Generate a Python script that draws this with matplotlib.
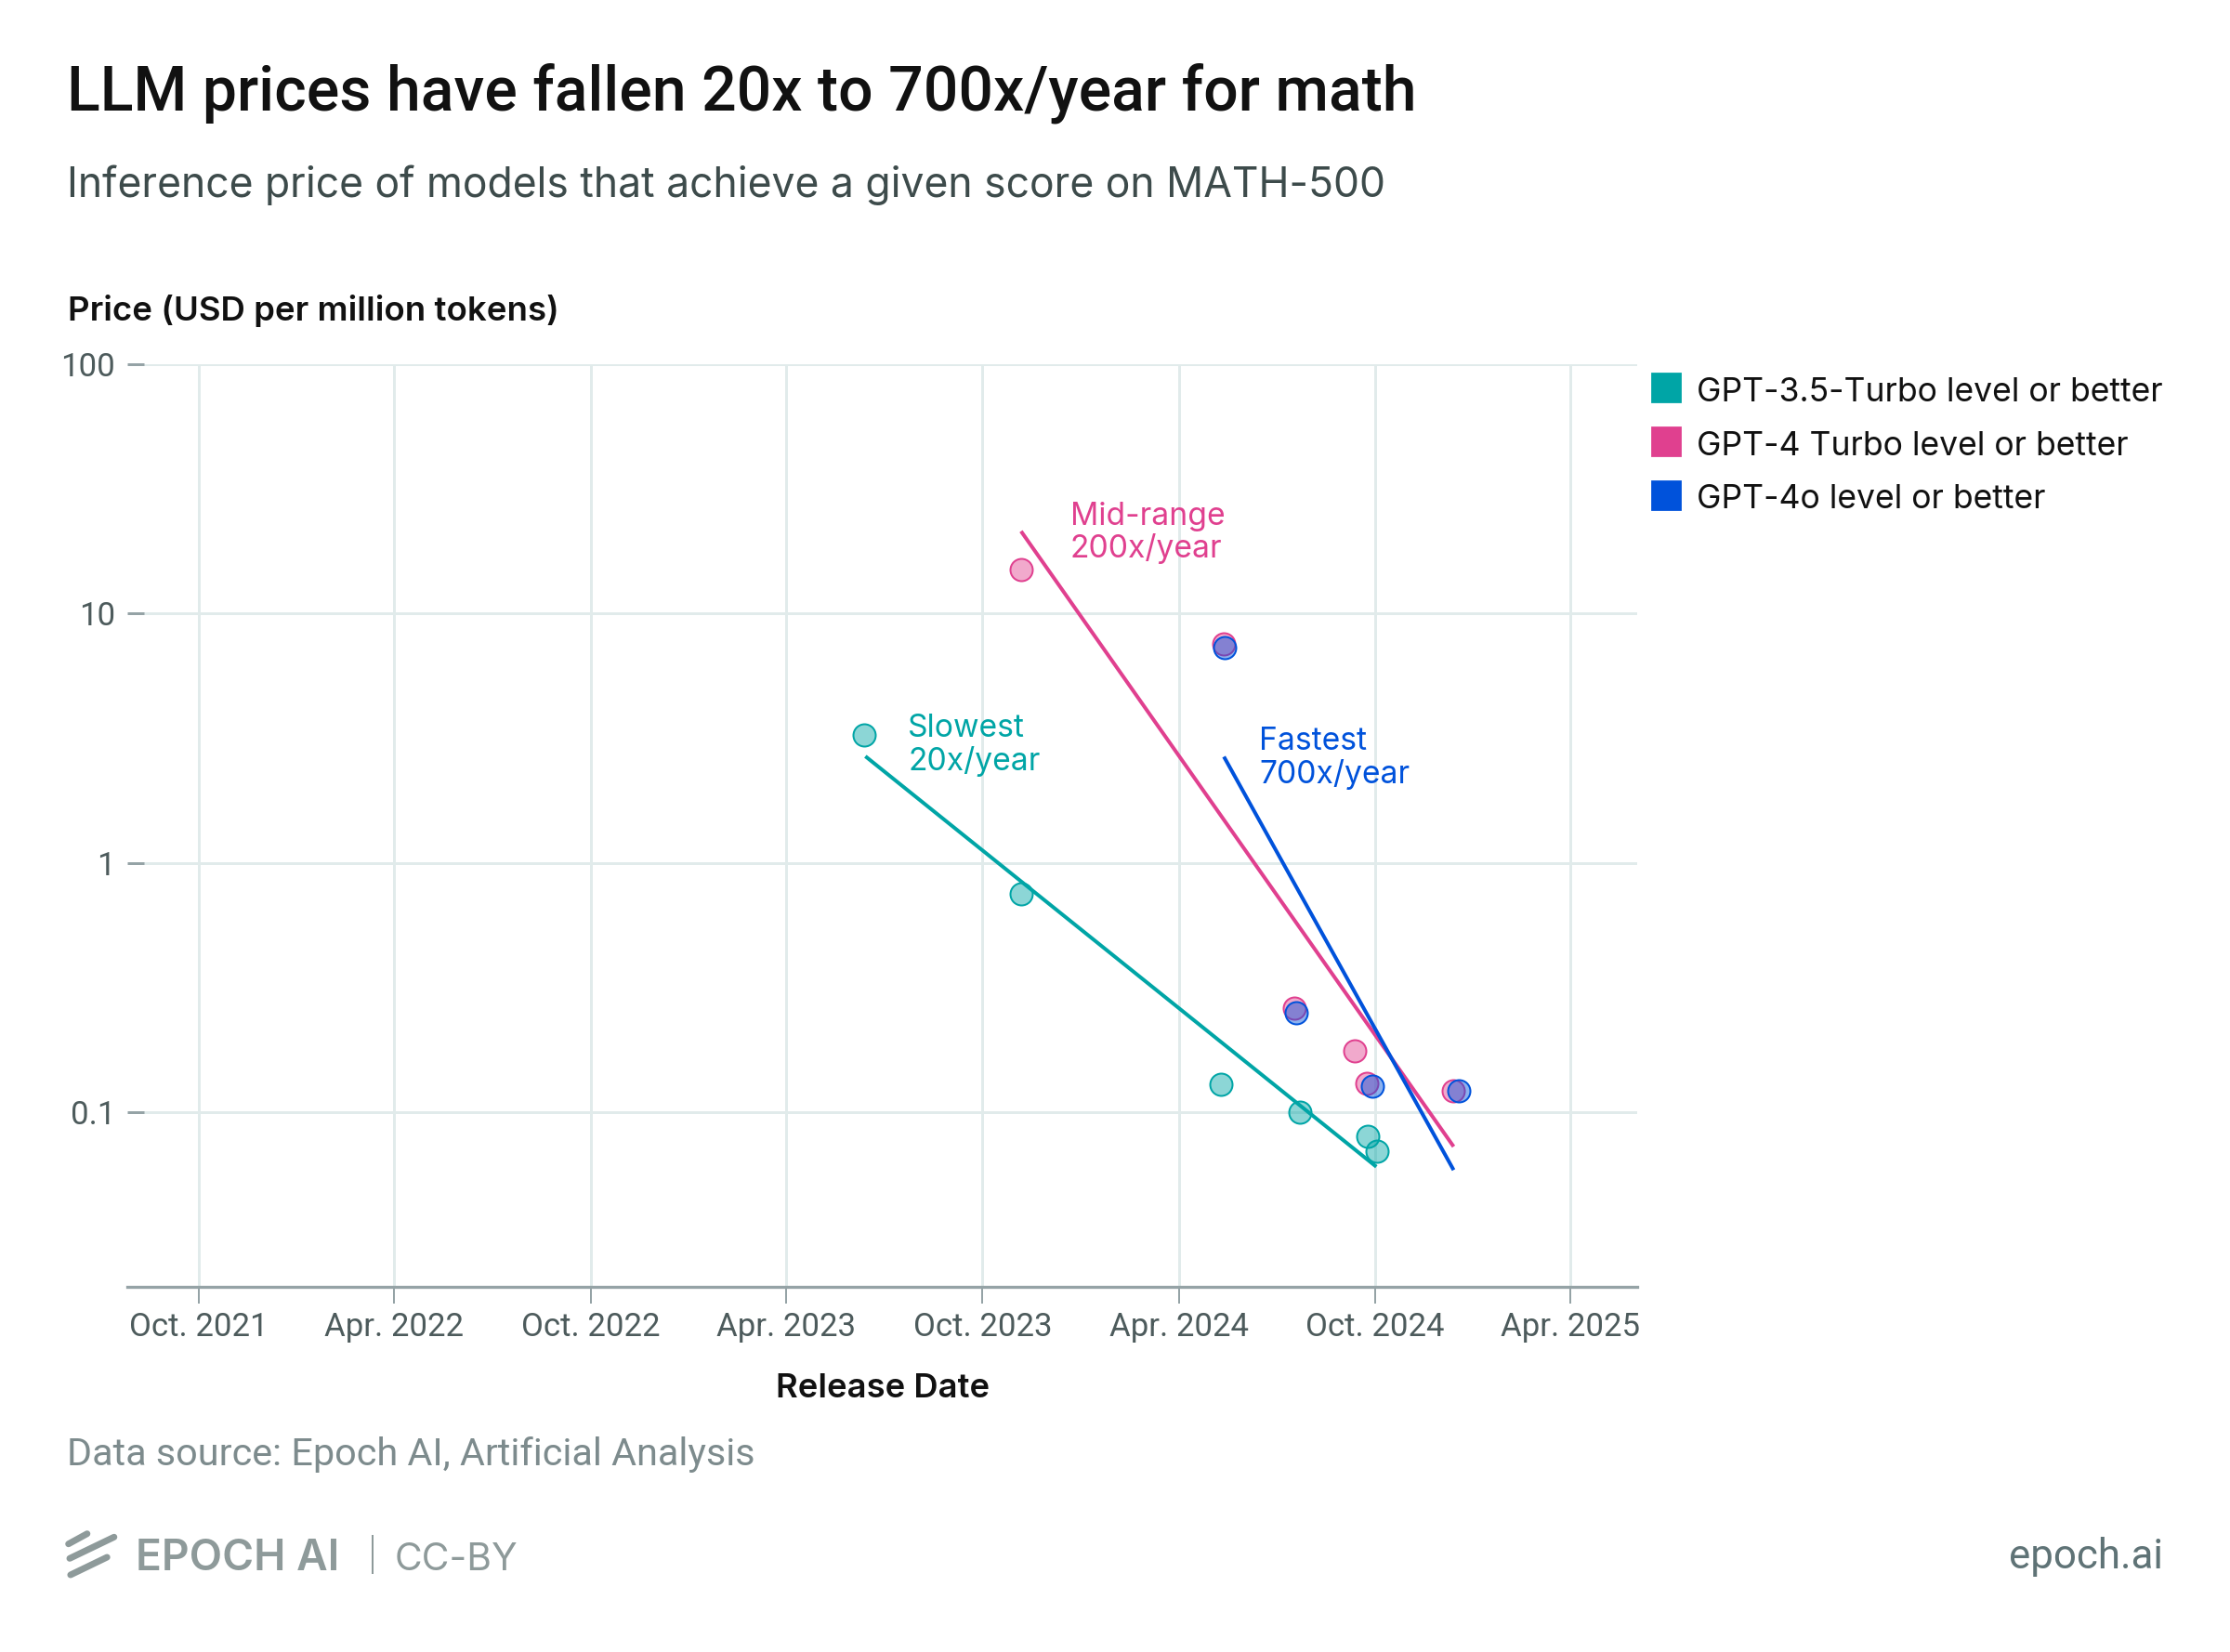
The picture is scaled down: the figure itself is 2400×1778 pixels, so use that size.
import matplotlib
matplotlib.use('Agg')
import matplotlib.pyplot as plt
from matplotlib.lines import Line2D
from matplotlib.patches import Rectangle
from matplotlib.colors import to_rgba
import numpy as np

plt.rcParams['font.family'] = ['Roboto', 'DejaVu Sans']
INTER = ['Inter', 'Roboto', 'DejaVu Sans']

# ---------------- data ----------------
teal_dates = ['2023-06-13', '2023-11-06', '2024-05-10', '2024-07-23', '2024-09-24', '2024-10-03']
teal_prices = [3.26, 0.75, 0.13, 0.10, 0.080, 0.070]

pink_dates = ['2023-11-06', '2024-05-13', '2024-07-18', '2024-09-12', '2024-09-23', '2024-12-13']
pink_prices = [15.0, 7.58, 0.262, 0.176, 0.131, 0.122]

blue_dates = ['2024-05-14', '2024-07-19', '2024-09-28', '2024-12-18']
blue_prices = [7.33, 0.251, 0.128, 0.122]

teal_trend_dates = ['2023-06-14', '2024-10-02']
teal_trend_prices = [2.68, 0.0606]
pink_trend_dates = ['2023-11-06', '2024-12-13']
pink_trend_prices = [21.4, 0.073]
blue_trend_dates = ['2024-05-13', '2024-12-13']
blue_trend_prices = [2.67, 0.0588]

series_names = ['GPT-3.5-Turbo level or better', 'GPT-4 Turbo level or better', 'GPT-4o level or better']
trend_labels = [('Slowest', '20x/year'), ('Mid-range', '200x/year'), ('Fastest', '700x/year')]

x_tick_dates = ['2021-10-01', '2022-04-01', '2022-10-01', '2023-04-01', '2023-10-01',
                '2024-04-01', '2024-10-01', '2025-04-01']
x_tick_labels = ['Oct. 2021', 'Apr. 2022', 'Oct. 2022', 'Apr. 2023', 'Oct. 2023',
                 'Apr. 2024', 'Oct. 2024', 'Apr. 2025']
y_ticks = [0.1, 1, 10, 100]
y_tick_labels = ['0.1', '1', '10', '100']
x_range = ['2021-08-11', '2025-06-02']
y_range = [0.02, 100]

# ---------------- styling ----------------
TEAL = '#00A5A6'
PINK = '#E0408F'
BLUE = '#0052DB'
GRID = '#E1EBEB'
AXIS = '#95A3A6'

W, H, DPI = 2400, 1778, 200
PX = 72 / DPI  # points per pixel

fig = plt.figure(figsize=(W / DPI, H / DPI), dpi=DPI)
fig.patch.set_facecolor('white')


def fx(x):
    return x / W


def fy(y):
    return 1 - y / H


ax_l, ax_r, ax_t, ax_b = 155, 1762, 392, 1385
ax = fig.add_axes([fx(ax_l), fy(ax_b), (ax_r - ax_l) / W, (ax_b - ax_t) / H])

d = lambda lst: np.array(lst, dtype='datetime64[D]')

ax.set_yscale('log')
ax.set_ylim(*y_range)
ax.set_xlim(d(x_range)[0], d(x_range)[1])

# trend lines
for dates, prices, col in [(teal_trend_dates, teal_trend_prices, TEAL),
                           (pink_trend_dates, pink_trend_prices, PINK),
                           (blue_trend_dates, blue_trend_prices, BLUE)]:
    ax.plot(d(dates), prices, color=col, lw=4 * PX, solid_capstyle='butt', zorder=3)

# points
for dates, prices, col in [(teal_dates, teal_prices, TEAL),
                           (pink_dates, pink_prices, PINK),
                           (blue_dates, blue_prices, BLUE)]:
    ax.scatter(d(dates), prices, s=(24 * PX) ** 2, facecolor=to_rgba(col, 0.45),
               edgecolor=col, linewidth=2 * PX, zorder=4)

# ticks
ax.set_xticks(d(x_tick_dates))
ax.set_xticklabels(x_tick_labels)
ax.set_yticks(y_ticks)
ax.set_yticklabels(y_tick_labels)
ax.yaxis.set_minor_locator(matplotlib.ticker.NullLocator())
ax.tick_params(axis='x', direction='out', length=18 * PX, width=2 * PX, color=AXIS,
               pad=9 * PX, labelsize=12.5, labelcolor='#4D5B5C')
ax.tick_params(axis='y', direction='out', length=18 * PX, width=3 * PX, color=AXIS,
               pad=13 * PX, labelsize=12.5, labelcolor='#4D5B5C')

ax.grid(True, which='major', color=GRID, lw=3 * PX, zorder=0)
ax.set_axisbelow(True)
for s in ax.spines.values():
    s.set_visible(False)

# bottom axis line (extends under the y tick marks)
fig.add_artist(Line2D([fx(137), fx(ax_r)], [fy(ax_b), fy(ax_b)], color=AXIS,
                      lw=3.3 * PX, transform=fig.transFigure))

# trend annotations
ann = [((977.3, 793.3, 829.0), TEAL, trend_labels[0]),
       ((1152.0, 565.0, 600.0), PINK, trend_labels[1]),
       ((1355.4, 806.7, 843.3), BLUE, trend_labels[2])]
for (x, y1, y2), col, (l1, l2) in ann:
    ax.text((x - ax_l) / (ax_r - ax_l), (ax_b - y1) / (ax_b - ax_t), l1, color=col,
            fontsize=12.1, family=INTER, transform=ax.transAxes, va='baseline', ha='left')
    ax.text((x - ax_l) / (ax_r - ax_l), (ax_b - y2) / (ax_b - ax_t), l2, color=col,
            fontsize=12.1, family=INTER, transform=ax.transAxes, va='baseline', ha='left')

# titles
fig.text(fx(72), fy(118.3), 'LLM prices have fallen 20x to 700x/year for math',
         fontsize=23.8, fontweight='medium', color='#111111', va='baseline')
fig.text(fx(72), fy(212.3), 'Inference price of models that achieve a given score on MATH-500',
         fontsize=16.0, family=INTER, color='#3D4B4B', va='baseline')
fig.text(fx(73), fy(345), 'Price (USD per million tokens)', fontsize=13.2, family=INTER,
         fontweight='semibold', color='#111111', va='baseline')
fig.text(fx(950), fy(1504), 'Release Date', fontsize=13.1, family=INTER, fontweight='semibold',
         color='#111111', va='baseline', ha='center')
fig.text(fx(72), fy(1577), 'Data source: Epoch AI, Artificial Analysis', fontsize=14.9,
         color='#7D8B8D', va='baseline')

# legend
for i, (name, col) in enumerate(zip(series_names, [TEAL, PINK, BLUE])):
    cy = 417 + 58 * i
    fig.add_artist(Rectangle((fx(1778), fy(cy + 15)), 30 / W, 30 / H, color=col,
                             transform=fig.transFigure))
    fig.text(fx(1826), fy(cy + 14.5), name, fontsize=12.8, family=INTER, color='#111111',
             va='baseline')

# footer
LOGO = '#8E9A9A'
for (x0, y0, x1, y1) in [(73.7, 1661.7, 93.8, 1650.7),
                         (75.0, 1677.3, 122.8, 1654.3),
                         (75.9, 1695.0, 115.2, 1676.0)]:
    fig.add_artist(Line2D([fx(x0), fx(x1)], [fy(y0), fy(y1)], color=LOGO, lw=7 * PX,
                          solid_capstyle='round', transform=fig.transFigure))
fig.text(fx(146), fy(1690), 'EPOCH AI', fontsize=16.6, family=INTER, fontweight='semibold',
         color=LOGO, va='baseline')
fig.add_artist(Line2D([fx(401), fx(401)], [fy(1653), fy(1693)], color=LOGO, lw=2 * PX,
                      transform=fig.transFigure))
fig.text(fx(425), fy(1690), 'CC-BY', fontsize=14.7, family=INTER, color=LOGO, va='baseline')
fig.text(fx(2328), fy(1688), 'epoch.ai', fontsize=15.8, color='#5F7376', va='baseline',
         ha='right')

fig.savefig('out.png', dpi=DPI)
